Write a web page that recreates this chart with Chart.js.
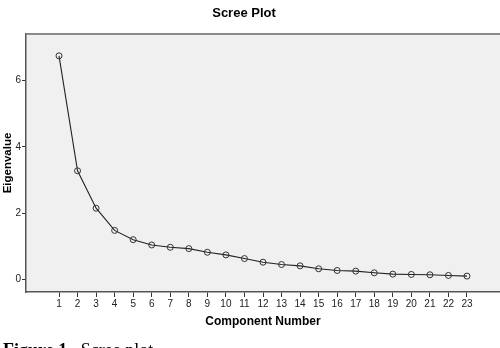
<!DOCTYPE html>
<html>
<head>
<meta charset="utf-8">
<script src="https://cdn.jsdelivr.net/npm/chart.js@4/dist/chart.umd.min.js"></script>
<style>
  html, body { margin: 0; padding: 0; background: #fff; }
  #wrap { width: 500px; height: 348px; position: relative; }
</style>
</head>
<body>
<div id="wrap"><canvas id="scree"></canvas></div>
<script>
// Données
const components = [1, 2, 3, 4, 5, 6, 7, 8, 9, 10, 11, 12, 13, 14, 15, 16, 17, 18, 19, 20, 21, 22, 23];
const eigenvalues = [6.75, 3.28, 2.15, 1.48, 1.20, 1.04, 0.97, 0.93, 0.82, 0.74, 0.63, 0.52, 0.45, 0.41, 0.32, 0.27, 0.25, 0.20, 0.16, 0.15, 0.14, 0.12, 0.10];
const yTicks = [0, 2, 4, 6];

const points = components.map((c, i) => ({ x: c, y: eigenvalues[i] }));

// Fond gris, bord du haut, titre et légende de la figure
const decor = {
  id: "decor",
  beforeDraw(chart) {
    const { ctx, chartArea: a } = chart;
    ctx.save();
    ctx.fillStyle = "#f0f0f0";
    ctx.fillRect(a.left, a.top, a.right - a.left, a.bottom - a.top);
    ctx.restore();
  },
  afterDraw(chart) {
    const { ctx, chartArea: a } = chart;
    ctx.save();
    ctx.strokeStyle = "#8a8a8a";
    ctx.lineWidth = 2;
    ctx.beginPath();
    ctx.moveTo(a.left, a.top);
    ctx.lineTo(a.right, a.top);
    ctx.stroke();

    ctx.fillStyle = "#000";
    ctx.textAlign = "center";
    ctx.textBaseline = "alphabetic";
    ctx.font = "bold 13px 'Liberation Sans', Arial, sans-serif";
    ctx.fillText("Scree Plot", 244, 17);

    ctx.textAlign = "left";
    ctx.font = "bold 18px 'Liberation Serif', 'Times New Roman', serif";
    ctx.fillText("Figure 1.", 3, 356);
    const w = ctx.measureText("Figure 1.  ").width;
    ctx.font = "18px 'Liberation Serif', 'Times New Roman', serif";
    ctx.fillText("Scree plot", 3 + w, 356);
    ctx.restore();
  },
};

new Chart(document.getElementById("scree"), {
  type: "line",
  data: {
    datasets: [
      {
        data: points,
        borderColor: "#222",
        borderWidth: 1.1,
        pointRadius: 3,
        pointBorderWidth: 1,
        pointBorderColor: "#333",
        pointBackgroundColor: "rgba(0,0,0,0)",
        tension: 0,
      },
    ],
  },
  options: {
    responsive: true,
    maintainAspectRatio: false,
    animation: false,
    layout: { autoPadding: false, padding: { top: 34, left: 0, right: 0, bottom: 0 } },
    plugins: {
      legend: { display: false },
      tooltip: { enabled: false },
    },
    scales: {
      x: {
        type: "linear",
        min: -0.78,
        max: 24.78,
        afterBuildTicks: (scale) => {
          scale.ticks = components.map((v) => ({ value: v }));
        },
        afterFit: (scale) => {
          scale.height = 56;
          scale.paddingLeft = 0;
          scale.paddingRight = 0;
        },
        grid: {
          drawOnChartArea: false,
          drawTicks: true,
          tickLength: 5,
          color: "#333",
        },
        border: { display: true, color: "#555", width: 1.5 },
        ticks: {
          autoSkip: false,
          maxRotation: 0,
          padding: 1,
          color: "#222",
          font: { family: "'Liberation Sans', Arial, sans-serif", size: 10 },
        },
        title: {
          display: true,
          text: "Component Number",
          color: "#000",
          padding: { top: 0, bottom: 19 },
          font: { family: "'Liberation Sans', Arial, sans-serif", size: 12, weight: "bold" },
        },
      },
      y: {
        min: -0.38,
        max: 7.41,
        afterBuildTicks: (scale) => {
          scale.ticks = yTicks.map((v) => ({ value: v }));
        },
        afterFit: (scale) => {
          scale.width = 26;
          scale.paddingTop = 0;
          scale.paddingBottom = 0;
        },
        grid: {
          drawOnChartArea: false,
          drawTicks: true,
          tickLength: 4,
          color: "#333",
        },
        border: { display: true, color: "#555", width: 1.5 },
        ticks: {
          padding: 1,
          color: "#222",
          font: { family: "'Liberation Sans', Arial, sans-serif", size: 10 },
        },
        title: {
          display: true,
          text: "Eigenvalue",
          color: "#000",
          padding: { top: 1, bottom: 0 },
          font: { family: "'Liberation Sans', Arial, sans-serif", size: 11.5, weight: "bold" },
        },
      },
    },
  },
  plugins: [decor],
});
</script>
</body>
</html>
